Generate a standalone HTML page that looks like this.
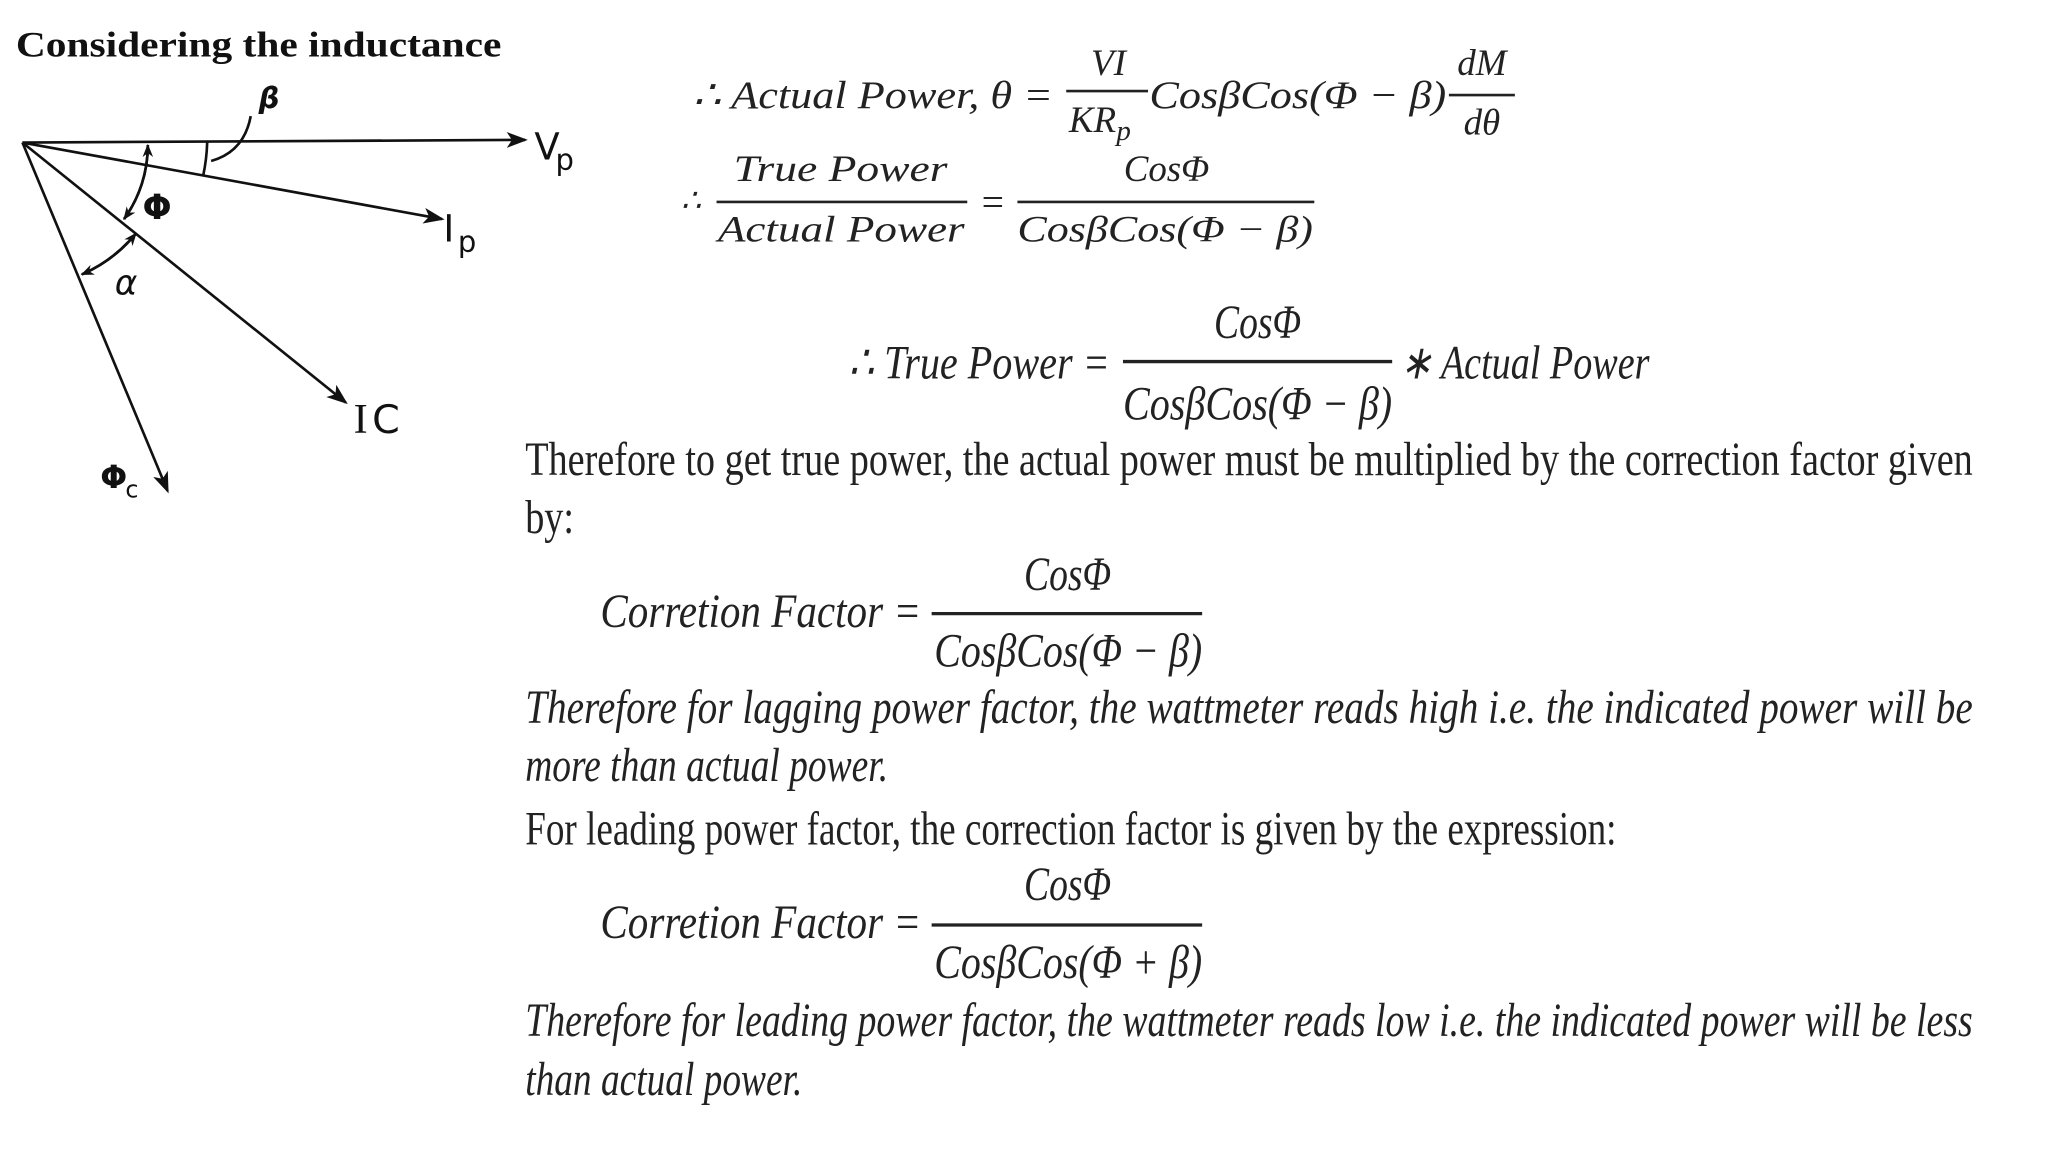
<!DOCTYPE html>
<html><head><meta charset="utf-8"><style>
html,body{margin:0;padding:0;background:#fff;width:2048px;height:1152px;overflow:hidden}
svg{display:block}
.m{font-family:"Liberation Serif",serif;font-style:italic;fill:#222}
.t{font-family:"Liberation Serif",serif;fill:#222}
</style></head><body>
<svg width="2048" height="1152" viewBox="0 0 1552 873" preserveAspectRatio="none" xmlns="http://www.w3.org/2000/svg">
<defs><marker id="ah" markerWidth="10" markerHeight="8" refX="9" refY="4" orient="auto" markerUnits="userSpaceOnUse"><path d="M0,0 L10,4 L0,8 L3,4z" fill="#111"/></marker>
<marker id="sa" markerWidth="16" markerHeight="12" refX="14" refY="6" orient="auto" markerUnits="userSpaceOnUse"><path d="M0,0 L16,6 L0,12 L4,6z" fill="#111"/></marker></defs>
<text x="12" y="43" font-family="Liberation Serif,serif" font-weight="bold" font-size="27" textLength="368" lengthAdjust="spacingAndGlyphs" fill="#111">Considering the inductance</text>
<g stroke="#111" stroke-width="2" fill="none">
<line x1="17" y1="108" x2="398" y2="106" marker-end="url(#sa)"/>
<line x1="17" y1="108" x2="335" y2="166" marker-end="url(#sa)"/>
<line x1="17" y1="108" x2="262" y2="305" marker-end="url(#sa)"/>
<line x1="17" y1="108" x2="127" y2="372" marker-end="url(#sa)"/>
<path d="M112,110 A95 95 0 0 1 94,166" marker-end="url(#ah)"/>
<path d="M94,166 A95 95 0 0 0 112,110" marker-end="url(#ah)"/>
<path d="M103,177 A110 110 0 0 1 62,208" marker-end="url(#ah)"/>
<path d="M62,208 A110 110 0 0 0 103,177" marker-end="url(#ah)"/>
<path d="M157,108 A140 140 0 0 1 154,133"/>
<path d="M160,122 Q185,115 190,88"/>
</g>
<g font-family="DejaVu Sans,sans-serif" fill="#111">
<text x="196" y="82" font-size="22" font-style="italic" font-weight="bold">β</text>
<text x="405" y="121" font-size="28">V</text><text x="421" y="129" font-size="22">p</text>
<text x="336" y="183" font-size="28">I</text><text x="347" y="191" font-size="22">p</text>
<text x="108" y="166" font-size="26" font-weight="bold">Φ</text>
<text x="87" y="223" font-size="26" font-style="italic">α</text>
<text x="76" y="370" font-size="24" font-weight="bold">Φ</text><text x="95" y="377" font-size="18">c</text>
</g>
<text x="268" y="328" font-family="Liberation Serif,serif" font-size="32" fill="#111">I</text>
<text x="282" y="328" font-family="DejaVu Sans,sans-serif" font-size="30" fill="#111">C</text>

<text class="m" x="525" y="82" font-size="30" textLength="273" lengthAdjust="spacingAndGlyphs">∴ Actual Power, θ =</text>
<text class="m" x="840" y="57" font-size="28" text-anchor="middle">VI</text>
<line x1="808" y1="69" x2="870" y2="69" stroke="#222" stroke-width="2"/>
<text class="m" x="810" y="100" font-size="28">KR</text><text class="m" x="846" y="106" font-size="22">p</text>
<text class="m" x="871" y="82" font-size="30" textLength="225" lengthAdjust="spacingAndGlyphs">CosβCos(Φ − β)</text>
<text class="m" x="1123" y="57" font-size="28" text-anchor="middle">dM</text>
<line x1="1098" y1="72" x2="1148" y2="72" stroke="#222" stroke-width="2"/>
<text class="m" x="1123" y="102" font-size="28" text-anchor="middle">dθ</text>
<text class="m" x="516" y="160" font-size="24">∴</text>
<text class="m" x="556" y="137" font-size="28" textLength="162" lengthAdjust="spacingAndGlyphs">True Power</text>
<line x1="543" y1="153" x2="733" y2="153" stroke="#222" stroke-width="2"/>
<text class="m" x="544" y="183" font-size="28" textLength="187" lengthAdjust="spacingAndGlyphs">Actual Power</text>
<text class="m" x="742" y="163" font-size="30">=</text>
<text class="m" x="884" y="137" font-size="28" text-anchor="middle">CosΦ</text>
<line x1="771" y1="153" x2="996" y2="153" stroke="#222" stroke-width="2"/>
<text class="m" x="771" y="183" font-size="28" textLength="224" lengthAdjust="spacingAndGlyphs">CosβCos(Φ − β)</text>
<text class="m" x="643" y="287" font-size="36" textLength="198" lengthAdjust="spacingAndGlyphs">∴ True Power =</text>
<text class="m" x="953" y="256" font-size="36" text-anchor="middle" textLength="66" lengthAdjust="spacingAndGlyphs">CosΦ</text>
<line x1="851" y1="274" x2="1055" y2="274" stroke="#222" stroke-width="2.5"/>
<text class="m" x="851" y="318" font-size="36" textLength="204" lengthAdjust="spacingAndGlyphs">CosβCos(Φ − β)</text>
<text class="m" x="1061" y="287" font-size="36" textLength="189" lengthAdjust="spacingAndGlyphs">∗ Actual Power</text>
<text class="t" x="398" y="360" font-size="36" textLength="1097" lengthAdjust="spacingAndGlyphs">Therefore to get true power, the actual power must be multiplied by the correction factor given</text>
<text class="t" x="398" y="404" font-size="36" textLength="37" lengthAdjust="spacingAndGlyphs">by:</text>
<text class="m" x="455" y="475" font-size="36" textLength="243" lengthAdjust="spacingAndGlyphs">Corretion Factor =</text>
<text class="m" x="809" y="447" font-size="36" text-anchor="middle" textLength="66" lengthAdjust="spacingAndGlyphs">CosΦ</text>
<line x1="706" y1="465" x2="911" y2="465" stroke="#222" stroke-width="2.5"/>
<text class="m" x="708" y="505" font-size="36" textLength="203" lengthAdjust="spacingAndGlyphs">CosβCos(Φ − β)</text>
<text class="m" x="398" y="548" font-size="36" textLength="1097" lengthAdjust="spacingAndGlyphs">Therefore for lagging power factor, the wattmeter reads high i.e. the indicated power will be</text>
<text class="m" x="398" y="592" font-size="36" textLength="275" lengthAdjust="spacingAndGlyphs">more than actual power.</text>
<text class="t" x="398" y="640" font-size="36" textLength="827" lengthAdjust="spacingAndGlyphs">For leading power factor, the correction factor is given by the expression:</text>
<text class="m" x="455" y="711" font-size="36" textLength="243" lengthAdjust="spacingAndGlyphs">Corretion Factor =</text>
<text class="m" x="809" y="682" font-size="36" text-anchor="middle" textLength="66" lengthAdjust="spacingAndGlyphs">CosΦ</text>
<line x1="706" y1="701" x2="911" y2="701" stroke="#222" stroke-width="2.5"/>
<text class="m" x="708" y="741" font-size="36" textLength="203" lengthAdjust="spacingAndGlyphs">CosβCos(Φ + β)</text>
<text class="m" x="398" y="785" font-size="36" textLength="1097" lengthAdjust="spacingAndGlyphs">Therefore for leading power factor, the wattmeter reads low i.e. the indicated power will be less</text>
<text class="m" x="398" y="830" font-size="36" textLength="210" lengthAdjust="spacingAndGlyphs">than actual power.</text>
</svg>
</body></html>
